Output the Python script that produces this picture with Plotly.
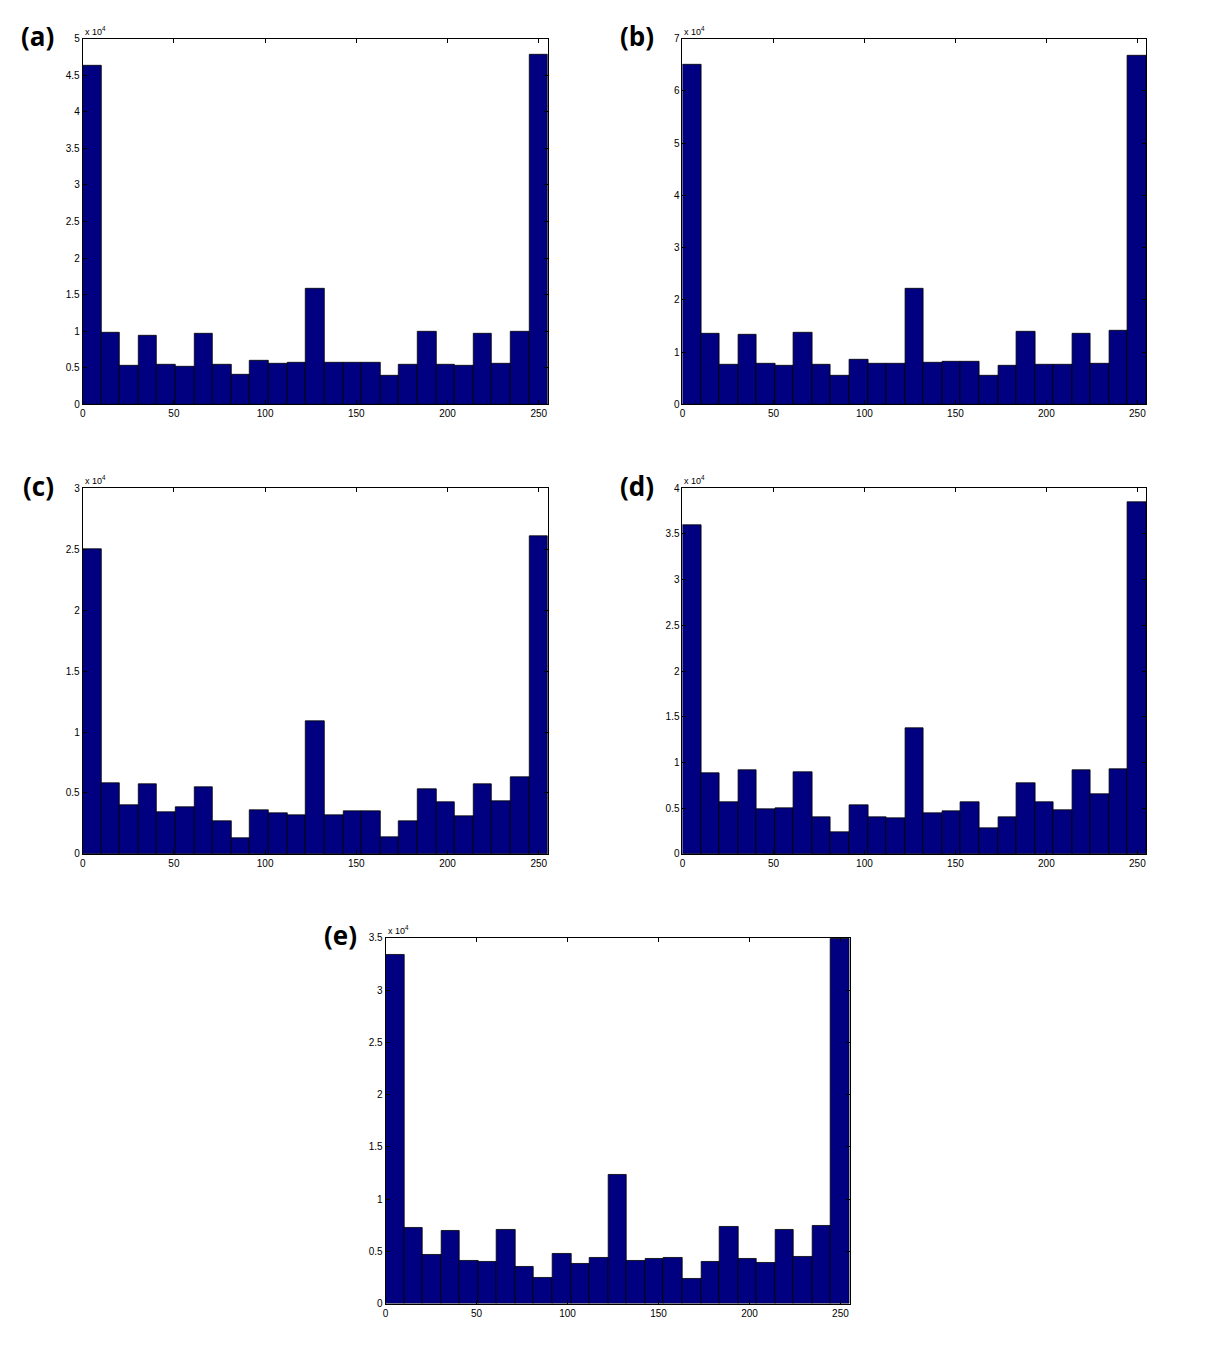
import numpy as np
import plotly.graph_objects as go

# 25-bin intensity histograms, counts in thousands
edges = np.linspace(0, 255, 26)
centers = (edges[:-1] + edges[1:]) / 2
width = edges[1] - edges[0]

hist_a = [46.3, 9.8, 5.3, 9.4, 5.4, 5.2, 9.7, 5.4, 4.0, 6.0, 5.5, 5.7, 15.8,
          5.7, 5.7, 5.7, 3.9, 5.4, 9.9, 5.4, 5.3, 9.7, 5.6, 9.9, 47.8]
hist_b = [65.0, 13.5, 7.6, 13.3, 7.7, 7.3, 13.7, 7.5, 5.4, 8.6, 7.7, 7.8, 22.2,
          8.0, 8.2, 8.2, 5.4, 7.3, 13.8, 7.6, 7.5, 13.6, 7.8, 14.1, 66.7]
hist_c = [25.0, 5.8, 4.0, 5.7, 3.4, 3.8, 5.5, 2.7, 1.3, 3.6, 3.3, 3.2, 10.9,
          3.2, 3.5, 3.5, 1.4, 2.7, 5.3, 4.2, 3.1, 5.7, 4.3, 6.3, 26.1]
hist_d = [36.0, 8.8, 5.7, 9.2, 4.9, 5.0, 8.9, 4.0, 2.4, 5.3, 4.0, 3.9, 13.8,
          4.4, 4.7, 5.7, 2.8, 4.0, 7.7, 5.7, 4.8, 9.2, 6.5, 9.3, 38.5]
hist_e = [33.4, 7.2, 4.7, 7.0, 4.1, 4.0, 7.1, 3.5, 2.5, 4.8, 3.8, 4.4, 12.3,
          4.1, 4.3, 4.4, 2.4, 4.0, 7.3, 4.3, 3.9, 7.1, 4.5, 7.4, 34.9]

# label, data, y max, y tick step, x domain, y domain
panels = [
    ("(a)", hist_a, 5, 0.5, [0.0663, 0.4533], [0.7030, 0.9756]),
    ("(b)", hist_b, 7, 1, [0.5653, 0.9513], [0.7030, 0.9756]),
    ("(c)", hist_c, 3, 0.5, [0.0663, 0.4533], [0.3677, 0.6404]),
    ("(d)", hist_d, 4, 0.5, [0.5653, 0.9513], [0.3677, 0.6404]),
    ("(e)", hist_e, 3.5, 0.5, [0.3183, 0.7043], [0.0324, 0.3051]),
]

fig = go.Figure()
tick_font = dict(family="Liberation Sans, Arial", size=10, color="black")

for i, (label, vals, ymax, step, xd, yd) in enumerate(panels, start=1):
    xa = "x" if i == 1 else f"x{i}"
    ya = "y" if i == 1 else f"y{i}"
    fig.add_trace(go.Bar(
        x=centers, y=np.array(vals) / 10, width=width,
        marker=dict(color="#000080", line=dict(color="black", width=0.8)),
        xaxis=xa, yaxis=ya, showlegend=False,
    ))
    common = dict(showline=True, linecolor="black", linewidth=1, mirror="ticks",
                  ticks="inside", ticklen=4, tickcolor="black", showgrid=False,
                  zeroline=False, tickfont=tick_font)
    fig.layout[f"xaxis{i if i > 1 else ''}"] = dict(
        domain=xd, anchor=ya, range=[0, 255], tickvals=[0, 50, 100, 150, 200, 250], **common)
    fig.layout[f"yaxis{i if i > 1 else ''}"] = dict(
        domain=yd, anchor=xa, range=[0, ymax], dtick=step, **common)
    fig.add_annotation(x=xd[0], y=yd[1], xref="paper", yref="paper", text="x 10<sup>4</sup>",
                       showarrow=False, xanchor="left", yanchor="bottom",
                       font=dict(family="Liberation Sans, Arial", size=9, color="black"))
    fig.add_annotation(x=xd[0] - 0.022, y=yd[1] + 0.002, xref="paper", yref="paper",
                       text=f"<b>{label}</b>", showarrow=False, xanchor="right", yanchor="middle",
                       font=dict(family="Open Sans, Arial", size=26, color="black"))

fig.update_layout(width=1205, height=1353, margin=dict(l=0, r=0, t=0, b=0),
                  paper_bgcolor="white", plot_bgcolor="white", bargap=0)
fig.write_html("out.html", config={"displayModeBar": False},
               post_script="document.body.style.margin='0';")
